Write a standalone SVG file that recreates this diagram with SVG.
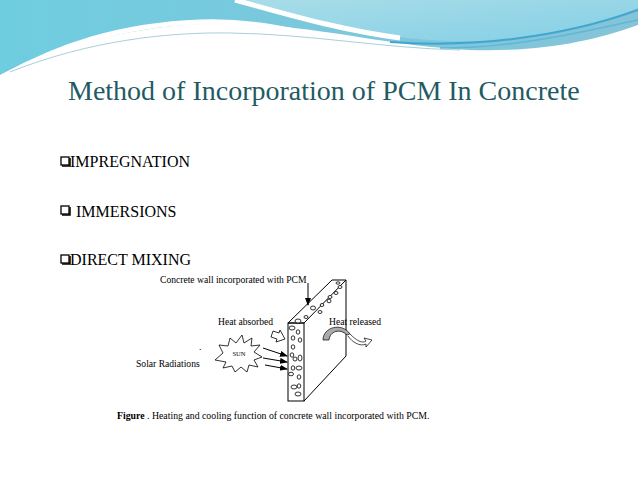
<svg xmlns="http://www.w3.org/2000/svg" width="638" height="479" viewBox="0 0 638 479">
<defs>
<linearGradient id="bg1" x1="0" y1="0" x2="1" y2="0"><stop offset="0" stop-color="#6fcde0"/><stop offset="1" stop-color="#86c3d8"/></linearGradient>
<linearGradient id="bg2" x1="0" y1="0" x2="1" y2="1"><stop offset="0" stop-color="#a8dde8"/><stop offset="1" stop-color="#85cfe6"/></linearGradient>
<marker id="ah" markerWidth="8" markerHeight="6" refX="7" refY="3" orient="auto" markerUnits="userSpaceOnUse"><path d="M0,0 L8,3 L0,6 Z" fill="#000"/></marker>
<style>
.b{font-family:"Liberation Serif",serif;font-size:16px;fill:#000}
.s{font-family:"Liberation Serif",serif;font-size:9.6px;fill:#000}
.l{stroke:#000;stroke-width:1;fill:none}
.o{fill:#fff;stroke:#000;stroke-width:0.8}
</style>
</defs>
<rect width="638" height="479" fill="#fff"/>
<path d="M0,0 H638 V25 C590,42 540,52 470,50 C380,46 300,20 200,24 C120,28 50,50 0,75 Z" fill="url(#bg1)"/>
<path d="M0,78 C60,45 120,25 200,22 C250,20 290,30 320,36" stroke="#fff" stroke-width="5" fill="none"/>
<path d="M10,72 C90,40 170,32 230,33 C310,34 380,48 460,50" stroke="#a9cfd8" stroke-width="1" fill="none"/>
<path d="M240,0 C300,18 360,35 430,40 C500,45 570,35 638,8 V0 Z" fill="url(#bg2)"/>
<path d="M235,0 C290,15 340,30 400,38" stroke="#fff" stroke-width="5" fill="none"/>
<path d="M390,42 C470,48 560,38 638,10" stroke="#3fa6d0" stroke-width="2" fill="none"/>
<path d="M440,48 C520,48 590,30 638,20" stroke="#5db8d8" stroke-width="1.5" fill="none"/>
<text x="68" y="100" font-family="Liberation Serif,serif" font-size="28" fill="#1f5b63">Method of Incorporation of PCM In Concrete</text>
<g id="bullets">
<rect x="61" y="157" width="8" height="8" fill="#fff" stroke="#000" stroke-width="1.3"/><path d="M70,158 V166 H62" stroke="#000" stroke-width="1.5" fill="none"/>
<text class="b" x="70" y="167">IMPREGNATION</text>
<rect x="61" y="206" width="8" height="8" fill="#fff" stroke="#000" stroke-width="1.3"/><path d="M70,207 V215 H62" stroke="#000" stroke-width="1.5" fill="none"/>
<text class="b" x="76" y="217">IMMERSIONS</text>
<rect x="61" y="255" width="8" height="8" fill="#fff" stroke="#000" stroke-width="1.3"/><path d="M70,256 V264 H62" stroke="#000" stroke-width="1.5" fill="none"/>
<text class="b" x="70" y="265">DIRECT MIXING</text>
</g>
<g id="wall">
<path class="l" d="M288,323 L332,280 H346 L304,323 Z"/>
<rect class="l" x="288" y="323" width="16" height="78" fill="#fff"/>
<path class="l" d="M346,280 V356 L304,401"/>
<g class="o">
<ellipse cx="292" cy="328" rx="3" ry="2"/><ellipse cx="298" cy="332" rx="1.8" ry="2.2"/><ellipse cx="293" cy="338" rx="1.8" ry="2.2"/><ellipse cx="300" cy="340" rx="1.8" ry="2.2"/><ellipse cx="293" cy="347" rx="1.8" ry="2.2"/><ellipse cx="292" cy="355" rx="1.8" ry="2.2"/><ellipse cx="295" cy="359" rx="2" ry="2"/><ellipse cx="300" cy="358" rx="2" ry="3"/><ellipse cx="293" cy="368" rx="1.8" ry="2.2"/><ellipse cx="299" cy="368" rx="3" ry="2"/><ellipse cx="291" cy="374" rx="2.5" ry="1.8"/><ellipse cx="299" cy="377" rx="1.8" ry="2.2"/><ellipse cx="294" cy="387" rx="3" ry="2"/><ellipse cx="299" cy="386" rx="1.8" ry="2.2"/><ellipse cx="298" cy="394" rx="3" ry="2"/>
<ellipse cx="298" cy="321" rx="3" ry="2"/><ellipse cx="306" cy="317" rx="2" ry="1.5"/><ellipse cx="313" cy="308" rx="2.5" ry="2"/><ellipse cx="322" cy="305" rx="1.8" ry="1.5"/><ellipse cx="329" cy="301" rx="2" ry="1.8"/><ellipse cx="320" cy="312" rx="2" ry="1.5"/><ellipse cx="336" cy="293" rx="2" ry="1.5"/><ellipse cx="340" cy="287" rx="2" ry="1.5"/><ellipse cx="330" cy="297" rx="2" ry="1.5"/><ellipse cx="338" cy="283" rx="2" ry="1.2"/>
</g>
</g>
<g id="labels">
<text class="s" x="160" y="283">Concrete wall incorporated with PCM</text>
<text class="s" x="218" y="325">Heat absorbed</text>
<text class="s" x="329" y="325">Heat released</text>
<text class="s" x="136" y="367">Solar Radiations</text>
<text class="s" x="199" y="350">.</text>
</g>
<g id="sun">
<path d="M215,360 L223,353 L219,345 L228,346 L230,338 L236,343 L242,335 L244,343 L252,338 L251,346 L260,345 L254,352 L262,357 L254,360 L258,367 L249,365 L247,372 L241,367 L235,372 L232,366 L223,368 L226,362 Z" fill="#fff" stroke="#000" stroke-width="0.8"/>
<text x="239" y="356" font-family="Liberation Serif,serif" font-size="6.5" text-anchor="middle">SUN</text>
</g>
<g id="connectors">
<path class="l" d="M308,283 V305" marker-end="url(#ah)"/>
<path class="l" d="M263,348 L287,356" marker-end="url(#ah)"/>
<path class="l" d="M263,358 L287,362" marker-end="url(#ah)"/>
<path class="l" d="M265,365 L287,369" marker-end="url(#ah)"/>
<path d="M273,331 L279,333 L280,330 L285,339 L276,342 L277,339 L271,337 Z" fill="#fff" stroke="#000" stroke-width="0.8"/>
<path d="M323,340 C323,327 342,322 350,334 L347,335 C340,328 330,331 329,340 Z" fill="#aaa" stroke="#000" stroke-width="0.7"/>
<path d="M350,334 C356,340 362,344 366,341 L364,338 L372,340 L366,347 L366,344 C360,347 352,342 348,336" fill="#fff" stroke="#000" stroke-width="0.7"/>
</g>
<text x="117" y="419" font-family="Liberation Serif,serif" font-size="9.8"><tspan font-weight="bold">Figure</tspan> . Heating and cooling function of concrete wall incorporated with PCM.</text>
</svg>
